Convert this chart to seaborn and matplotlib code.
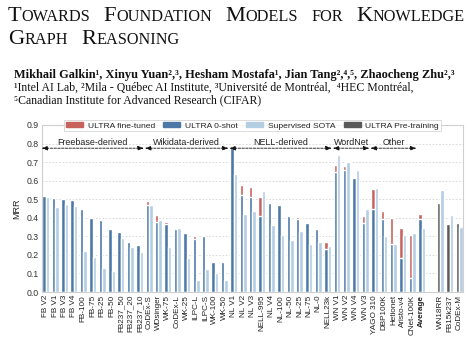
import numpy as np
import pandas as pd
import seaborn as sns
import matplotlib.pyplot as plt
from matplotlib.patches import Patch

# datasets in plotting order, " " is the empty slot before the pre-training sets
datasets = ["FB V2", "FB V1", "FB V3", "FB V4", "FB-100", "FB-75", "FB-25", "FB-50",
            "FB237_50", "FB237_20", "FB237_10",
            "CoDEx-S", "WDsinger", "WK-75", "CoDEx-L", "WK-25", "ILPC-L", "ILPC-S",
            "WK-100", "WK-50",
            "NL V1", "NL V2", "NL V3", "NELL-995", "NL V4", "NL-100", "NL-50", "NL-25",
            "NL-75", "NL-0", "NELL23k",
            "WN V1", "WN V2", "WN V4", "WN V3",
            "YAGO 310", "DBP100K", "Hetionet", "Aristo-v4", "CNet-100K",
            "Average", " ", "WN18RR", "FB15k237", "CoDEx-M"]

zero_shot = [0.520, 0.505, 0.500, 0.496, 0.447, 0.400, 0.386, 0.339, 0.323, 0.272, 0.252,
             0.468, 0.378, 0.364, 0.339, 0.318, 0.288, 0.300, 0.162, 0.162,
             0.784, 0.523, 0.514, 0.407, 0.477, 0.468, 0.410, 0.395, 0.371, 0.340, 0.234,
             0.649, 0.658, 0.612, 0.373,
             0.450, 0.396, 0.257, 0.181, 0.078,
             0.393]
fine_tuned = [0.520, 0.505, 0.500, 0.496, 0.447, 0.400, 0.388, 0.339, 0.323, 0.272, 0.252,
              0.490, 0.414, 0.375, 0.339, 0.318, 0.303, 0.300, 0.162, 0.162,
              0.784, 0.575, 0.564, 0.510, 0.477, 0.468, 0.416, 0.404, 0.371, 0.340, 0.267,
              0.686, 0.680, 0.612, 0.409,
              0.556, 0.436, 0.397, 0.343, 0.307,
              0.420]
sota = [0.510, 0.456, 0.474, 0.463, 0.220, 0.187, 0.128, 0.114, 0.290, 0.245, 0.217,
        0.467, 0.390, 0.245, 0.343, 0.185, 0.067, 0.126, 0.104, 0.064,
        0.636, 0.418, 0.436, 0.544, 0.360, 0.306, 0.280, 0.330, 0.258, 0.267, 0.249,
        0.739, 0.703, 0.657, 0.450,
        0.561, 0.303, 0.256, 0.307, 0.316,
        0.344, np.nan, 0.550, 0.413, 0.352]
pretrain_sets = ["WN18RR", "FB15k237", "CoDEx-M"]
pretrain = [0.481, 0.366, 0.370]

groups = [("Freebase-derived", 0, 10), ("Wikidata-derived", 11, 19),
          ("NELL-derived", 20, 30), ("WordNet", 31, 34), ("Other", 35, 39)]

c_ft = "#c8625d"
c_zs = "#4c78a8"
c_sota = "#b3cde3"
c_pre = "#5a5a5a"

zs_sets = datasets[:len(zero_shot)]
ft_df = pd.DataFrame({"dataset": zs_sets, "mrr": fine_tuned, "side": "left"})
zs_df = pd.DataFrame({"dataset": zs_sets, "mrr": zero_shot, "side": "left"})
pre_df = pd.DataFrame({"dataset": pretrain_sets, "mrr": pretrain, "side": "left"})
sota_df = pd.DataFrame({"dataset": datasets, "mrr": sota, "side": "right"}).dropna()

sns.set_theme(style="whitegrid")
plt.rcParams['font.family'] = ['Liberation Sans', 'DejaVu Sans']

W, H = 474, 351
fig = plt.figure(figsize=(W / 100, H / 100), dpi=100)
ax = fig.add_axes([41.7 / W, 1 - 292 / H, 421.5 / W, 167 / H])

common = dict(x="dataset", y="mrr", hue="side", hue_order=["left", "right"], order=datasets,
              dodge=True, width=0.74, errorbar=None, saturation=1, legend=False, ax=ax)
sns.barplot(data=ft_df, palette={"left": c_ft, "right": c_ft}, **common)
sns.barplot(data=zs_df, palette={"left": c_zs, "right": c_zs}, **common)
sns.barplot(data=pre_df, palette={"left": c_pre, "right": c_pre}, **common)
sns.barplot(data=sota_df, palette={"left": c_sota, "right": c_sota}, **common)

ax.set_xlim(-0.43, len(datasets) - 1 + 0.43)
ax.set_ylim(0, 0.9)
ax.set_yticks(np.arange(0, 0.91, 0.1))
ax.set_yticklabels([f"{v:.1f}" for v in np.arange(0, 0.91, 0.1)], fontsize=6.3, color="#333333")
ax.set_xlabel("")
ax.set_ylabel("MRR", fontsize=6.5, color="#222222", labelpad=4)
ax.tick_params(axis="x", labelrotation=90, labelsize=5.9, pad=2, length=0, labelcolor="#222222")
ax.tick_params(axis="y", pad=2, length=0)
for lbl in ax.get_xticklabels():
    if lbl.get_text() == "Average":
        lbl.set_fontweight("bold")
ax.grid(axis="x", visible=False)
ax.grid(axis="y", linestyle=(0, (2, 2)), color="#d4d4d4", lw=0.6)
ax.set_axisbelow(True)
for s in ax.spines.values():
    s.set_color("#cfcfcf")
    s.set_linewidth(0.8)

# group arrows
for name, a, b in groups:
    ax.annotate("", xy=(b + 0.45, 0.775), xytext=(a - 0.45, 0.775),
                arrowprops=dict(arrowstyle="<|-|>,head_length=0.5,head_width=0.18",
                                linestyle=(0, (3, 1.5)), lw=0.6, color="#111111",
                                shrinkA=0, shrinkB=0, mutation_scale=7))
    ax.text((a + b) / 2, 0.781, name, ha="center", va="bottom", fontsize=6.4, color="#222222")

handles = [Patch(color=c_ft, label="ULTRA fine-tuned"), Patch(color=c_zs, label="ULTRA 0-shot"),
           Patch(color=c_sota, label="Supervised SOTA"), Patch(color=c_pre, label="ULTRA Pre-training")]
leg = ax.legend(handles=handles, ncol=4, loc="upper center", bbox_to_anchor=(0.5, 1.028),
                fontsize=6.1, frameon=True, borderpad=0.2, handlelength=2.0, handleheight=0.55,
                columnspacing=1.0, handletextpad=0.55, borderaxespad=0, fancybox=False)
leg.get_frame().set_edgecolor("#cccccc")
leg.get_frame().set_linewidth(0.6)

# header text of the paper
renderer = fig.canvas.get_renderer()
serif = ['Liberation Serif', 'DejaVu Serif']


def put(x, y, s, size, **kw):
    t = fig.text(x / W, 1 - y / H, s, fontsize=size, va="baseline", ha="left",
                 family=serif, color="#111111", **kw)
    return t, t.get_window_extent(renderer=renderer).width


def smallcaps_line(words, x0, y, big, small, x1=None, gap=6.0):
    pieces = []
    for w in words:
        if w == "for":
            pieces.append([(w.upper(), small)])
        else:
            pieces.append([(w[0], big), (w[1:].upper(), small)])
    widths = []
    for parts in pieces:
        tot = 0
        for s, size in parts:
            t, wd = put(0, y, s, size)
            t.remove()
            tot += wd
        widths.append(tot)
    if x1 is not None:
        gap = (x1 - x0 - sum(widths)) / (len(words) - 1)
    x = x0
    for parts in pieces:
        for s, size in parts:
            _, w_ = put(x, y, s, size)
            x += w_
        x += gap
    return gap


g = smallcaps_line(["Towards", "Foundation", "Models", "for", "Knowledge"], 8, 21, 16.2, 11.7, x1=465)
smallcaps_line(["Graph", "Reasoning"], 8, 44, 16.2, 11.7, gap=g)


def fitted(s, x0, x1, y, weight="normal", size=None):
    if size is None:
        t, wd = put(0, y, s, 8, fontweight=weight)
        t.remove()
        size = 8 * (x1 - x0) / wd
    put(x0, y, s, size, fontweight=weight)
    return size


fitted("Mikhail Galkin¹, Xinyu Yuan²,³, Hesham Mostafa¹, Jian Tang²,⁴,⁵, Zhaocheng Zhu²,³",
       13.5, 452, 78, weight="bold")
sz = fitted("¹Intel AI Lab, ²Mila - Québec AI Institute, ³Université de Montréal,  ⁴HEC Montréal,",
            14, 410, 90.5)
fitted("⁵Canadian Institute for Advanced Research (CIFAR)", 14, None, 103.5, size=sz)

fig.savefig("out.png", dpi=100)
